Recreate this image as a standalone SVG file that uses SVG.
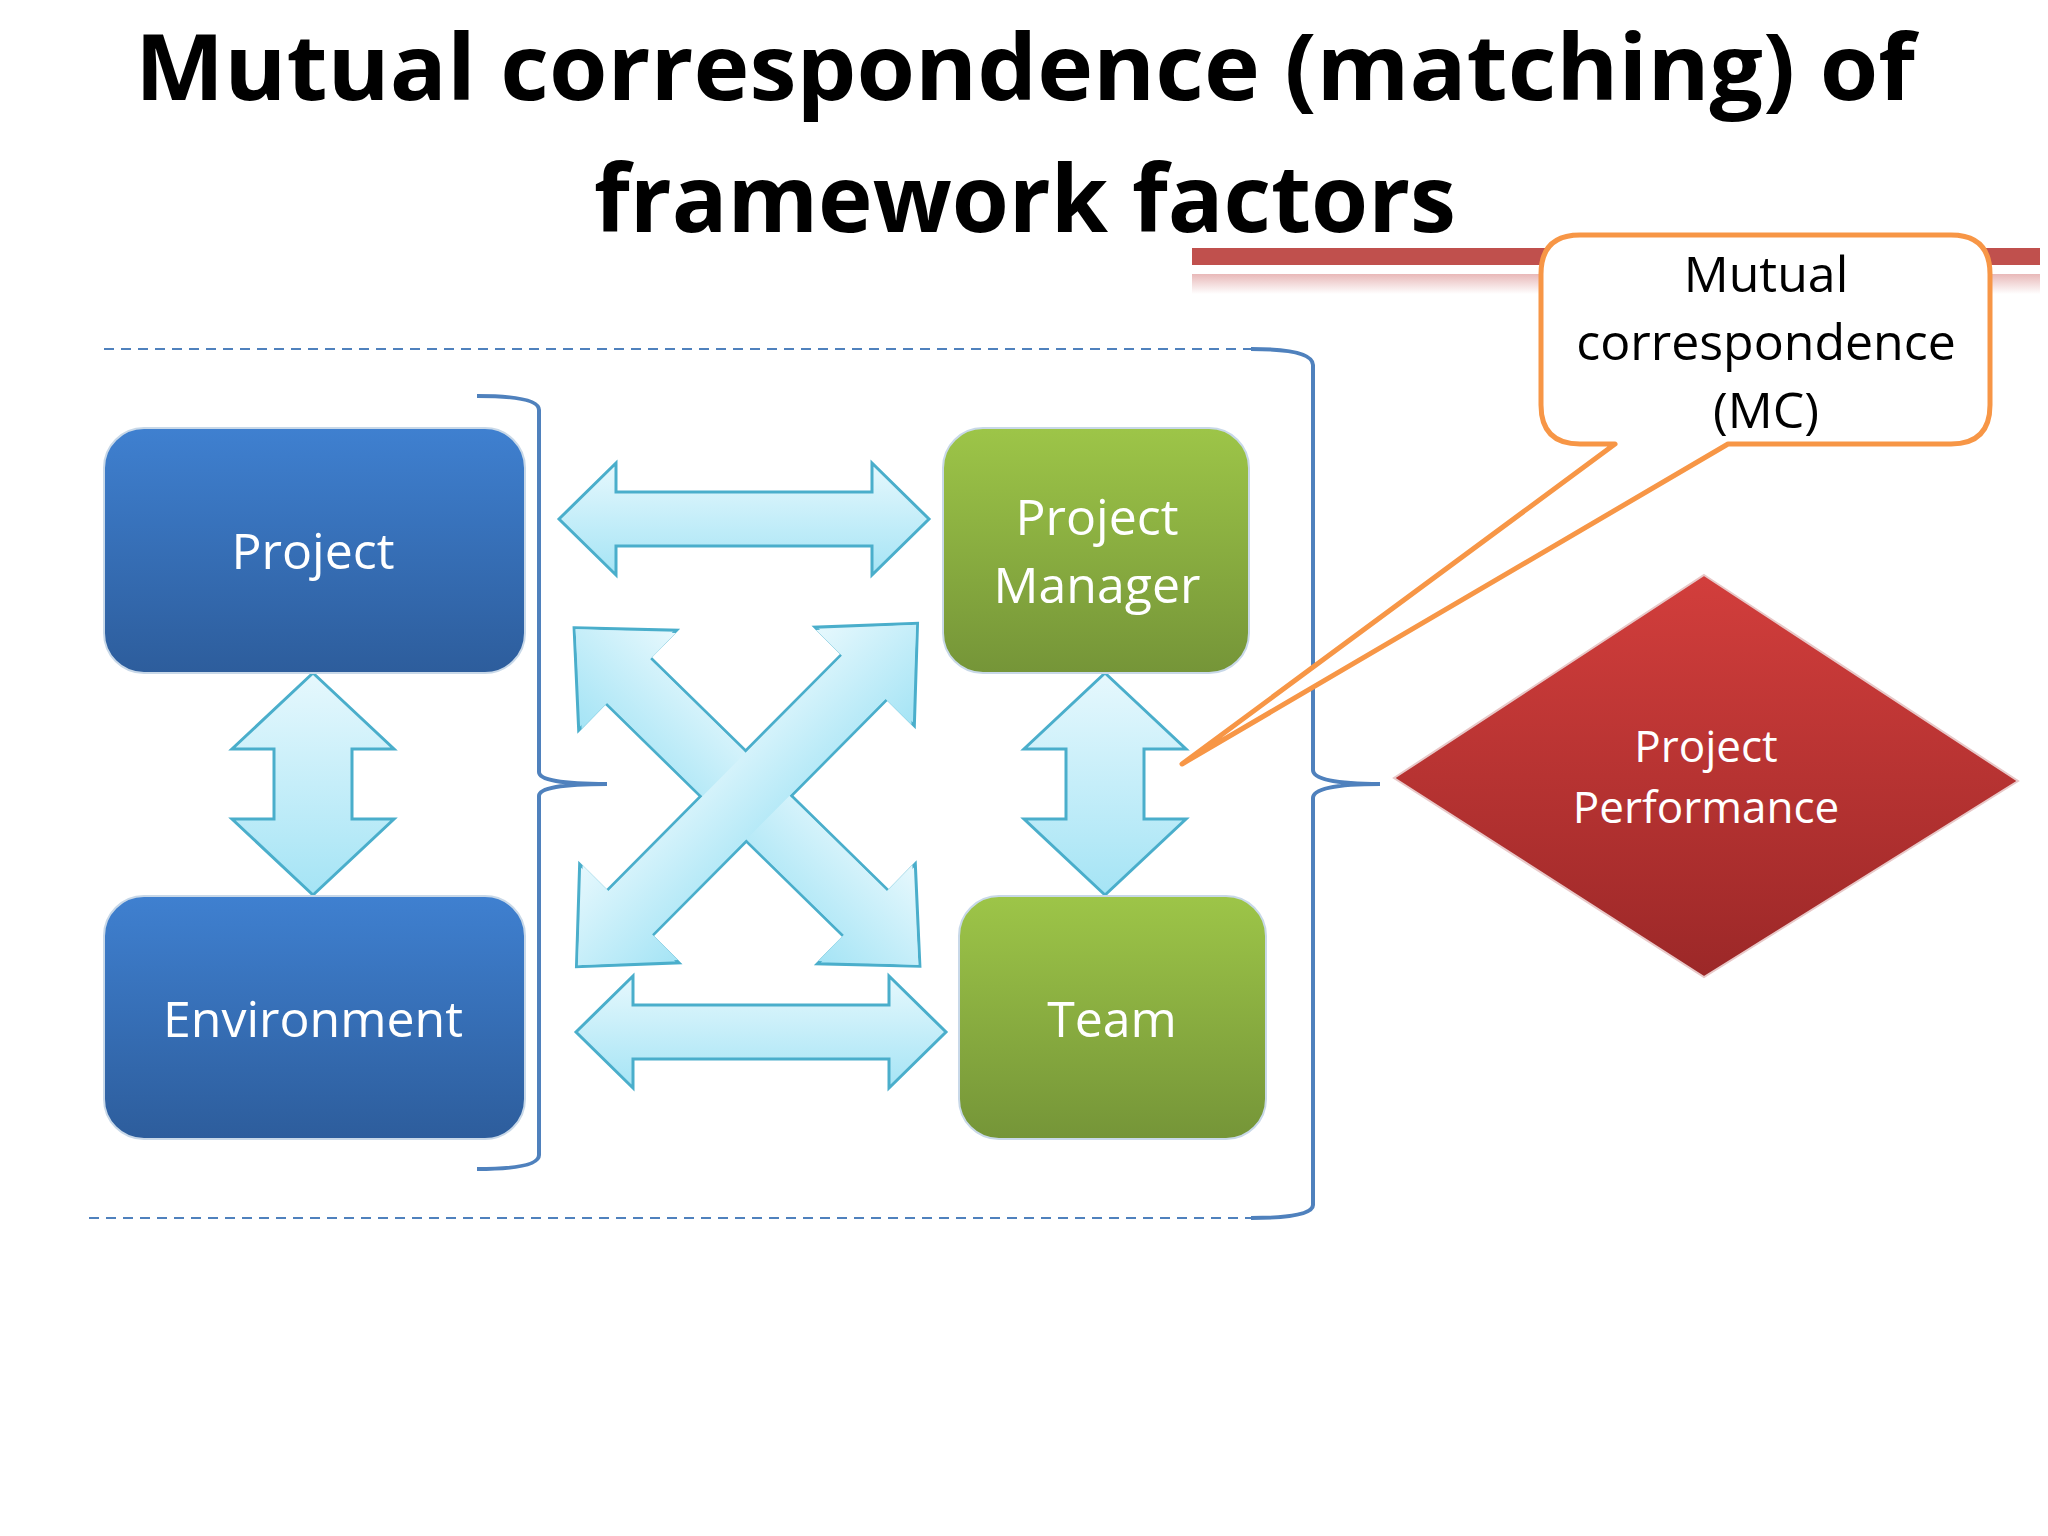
<svg xmlns="http://www.w3.org/2000/svg" width="2048" height="1536" viewBox="0 0 2048 1536">
<defs>
<linearGradient id="gb" x1="0" y1="0" x2="0" y2="1"><stop offset="0" stop-color="#3f80d0"/><stop offset="1" stop-color="#2d5d9c"/></linearGradient>
<linearGradient id="gg" x1="0" y1="0" x2="0" y2="1"><stop offset="0" stop-color="#9dc548"/><stop offset="1" stop-color="#759538"/></linearGradient>
<linearGradient id="gr" x1="0" y1="0" x2="0" y2="1"><stop offset="0" stop-color="#d23e3c"/><stop offset="1" stop-color="#9c2828"/></linearGradient>
<linearGradient id="gc" x1="0" y1="0" x2="0" y2="1"><stop offset="0" stop-color="#e6f8fd"/><stop offset="1" stop-color="#a5e4f5"/></linearGradient>
<linearGradient id="gp" x1="0" y1="0" x2="0" y2="1"><stop offset="0" stop-color="#e8b8b8"/><stop offset="1" stop-color="#ffffff"/></linearGradient>
<path id="ah" d="M-185 0 L-128 -56 L-128 -27 L128 -27 L128 -56 L185 0 L128 56 L128 27 L-128 27 L-128 56 Z"/>
<path id="av" d="M0 -111 L81 -35 L39 -35 L39 35 L81 35 L0 111 L-81 35 L-39 35 L-39 -35 L-81 -35 Z"/>
<path id="ad" d="M-242 0 L-167 -70 L-167 -32 L167 -32 L167 -70 L242 0 L167 70 L167 32 L-167 32 L-167 70 Z"/>
</defs>
<style>
.t{font-family:"Open Sans","Liberation Sans",sans-serif;text-anchor:middle}
.w{fill:#fff;font-size:50px}
.arr{fill:url(#gc);stroke:#4aaecb;stroke-width:3}
.box{stroke:#c8d8e8;stroke-width:2}
.dash{stroke:#4f81bd;stroke-width:2;stroke-dasharray:10 7;fill:none}
.br{stroke:#4f81bd;stroke-width:4;fill:none}
</style>
<rect width="2048" height="1536" fill="#fff"/>
<rect x="1192" y="248" width="848" height="17" fill="#c0504d"/>
<rect x="1192" y="274" width="848" height="20" fill="url(#gp)"/>
<text class="t" x="1025" y="100" font-size="92" font-weight="bold" textLength="1780" lengthAdjust="spacingAndGlyphs">Mutual correspondence (matching) of</text>
<text class="t" x="1025" y="232" font-size="94" font-weight="bold" textLength="862" lengthAdjust="spacingAndGlyphs">framework factors</text>
<g id="frame">
<line class="dash" x1="104" y1="349" x2="1254" y2="349"/>
<line class="dash" x1="89" y1="1218" x2="1254" y2="1218"/>
<path class="br" d="M1251 349 Q1313 349 1313 365 L1313 770 Q1313 784 1380 784 Q1313 784 1313 798 L1313 1205 Q1313 1218 1251 1218"/>
<path class="br" d="M477 396 Q539 396 539 410 L539 772 Q539 784 607 784 Q539 784 539 796 L539 1155 Q539 1169 477 1169"/>
</g>
<g id="connectors">
<use href="#ah" class="arr" transform="translate(744 519)"/>
<use href="#ah" class="arr" transform="translate(761 1032)"/>
<use href="#av" class="arr" transform="translate(313 784)"/>
<use href="#av" class="arr" transform="translate(1105 784)"/>
<use href="#ad" class="arr" transform="translate(747 797) rotate(44.4)"/>
<use href="#ad" class="arr" transform="translate(747 795) rotate(-45.2)"/>
<use href="#ad" fill="url(#gc)" transform="translate(747 797) rotate(44.4) scale(0.992 0.96)"/>
<use href="#ad" fill="url(#gc)" transform="translate(747 795) rotate(-45.2) scale(0.992 0.96)"/>
</g>
<g id="project"><rect class="box" x="104" y="428" width="421" height="245" rx="40" fill="url(#gb)"/><text class="t w" x="313" y="569">Project</text></g>
<g id="environment"><rect class="box" x="104" y="896" width="421" height="243" rx="40" fill="url(#gb)"/><text class="t w" x="313" y="1037">Environment</text></g>
<g id="pm"><rect class="box" x="943" y="428" width="306" height="245" rx="40" fill="url(#gg)"/><text class="t w" x="1097" y="535">Project</text><text class="t w" x="1097" y="603">Manager</text></g>
<g id="team"><rect class="box" x="959" y="896" width="307" height="243" rx="40" fill="url(#gg)"/><text class="t w" x="1112" y="1037">Team</text></g>
<g id="performance"><path d="M1704 575 L2018 781 L1704 977 L1394 778 Z" fill="url(#gr)" stroke="#e8c8c8" stroke-width="2"/><text class="t" fill="#fff" font-size="44" x="1706" y="762">Project</text><text class="t" fill="#fff" font-size="44" x="1706" y="823">Performance</text></g>
<g id="callout"><path d="M1580 235 L1951 235 Q1990 235 1990 274 L1990 405 Q1990 444 1951 444 L1728 444 L1182 764 L1615 444 L1580 444 Q1541 444 1541 405 L1541 274 Q1541 235 1580 235 Z" fill="#fff" stroke="#f79646" stroke-width="5" stroke-linejoin="round"/>
<text class="t" font-size="50" fill="#000" x="1766" y="292">Mutual</text><text class="t" font-size="50" fill="#000" x="1766" y="360">correspondence</text><text class="t" font-size="50" fill="#000" x="1766" y="428">(MC)</text></g>
</svg>
